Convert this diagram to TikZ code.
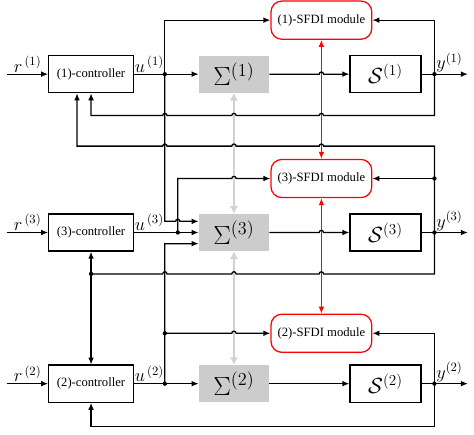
\documentclass[tikz,border=0pt]{standalone}
\usepackage{amsmath}
\usepackage{fontspec}
\setmainfont{Liberation Serif}
\usetikzlibrary{calc}
\usetikzlibrary{arrows.meta}

\tikzset{
	ctrlbox/.style={draw, line width=1pt, minimum width=2.35cm, minimum height=1.03cm},
	sysbox/.style={fill=gray!40, minimum width=1.95cm, minimum height=1.03cm},
	plantbox/.style={draw, line width=1pt, minimum width=1.97cm, minimum height=1.03cm},
	sfdibox/.style={draw=red, line width=1pt, rounded corners=0.3cm, fill=white, inner sep=2pt, minimum width=2.8cm, minimum height=1.06cm},
	sig/.style={line width=1pt, -{Latex[length=5.5pt,width=4.5pt]}},
	wire/.style={line width=1pt},
	share/.style={line width=2.2pt, gray!35, {Latex[length=6pt,width=6.5pt]}-{Latex[length=6pt,width=6.5pt]}},
	talk/.style={line width=1pt, red, {Latex[length=5.5pt,width=4.5pt]}-{Latex[length=5.5pt,width=4.5pt]}},
	lab/.style={above, inner sep=1pt, font=\Large},
}

\begin{document}
\begin{tikzpicture}
	\useasboundingbox (0,0) rectangle (13.17,12.06);

	%blocks
	\node[ctrlbox] (ctrl1) at (2.53,10) {(1)-controller};
	\node[ctrlbox] (ctrl3) at (2.53,5.6) {(3)-controller};
	\node[ctrlbox] (ctrl2) at (2.53,1.4) {(2)-controller};
	\node[sysbox] (sys1) at (6.5,10) {\huge$\Sigma^{(1)}$};
	\node[sysbox] (sys3) at (6.5,5.6) {\huge$\Sigma^{(3)}$};
	\node[sysbox] (sys2) at (6.5,1.4) {\huge$\Sigma^{(2)}$};
	\node[plantbox] (plant1) at (10.71,10) {\LARGE$\mathcal{S}^{(1)}$};
	\node[plantbox] (plant3) at (10.71,5.6) {\LARGE$\mathcal{S}^{(3)}$};
	\node[plantbox] (plant2) at (10.71,1.4) {\LARGE$\mathcal{S}^{(2)}$};
	\node[sfdibox] (sfdi1) at (8.93,11.5) {(1)-SFDI module};
	\node[sfdibox] (sfdi3) at (8.93,7.1) {(3)-SFDI module};
	\node[sfdibox] (sfdi2) at (8.93,2.8) {(2)-SFDI module};

	%branch points and free ends
	\coordinate (r1) at (0.2,10);
	\coordinate (r3) at (0.2,5.6);
	\coordinate (r2) at (0.2,1.4);
	\coordinate (u1) at (4.58,10);
	\coordinate (u3) at (4.94,5.6);
	\coordinate (u2) at (4.58,1.4);
	\coordinate (u2a) at (4.58,2.8);
	\coordinate (y1) at (12.07,10);
	\coordinate (y3) at (12.07,5.6);
	\coordinate (y3a) at (12.07,7.1);
	\coordinate (y2) at (12.07,1.4);
	\coordinate (o1) at (13,10);
	\coordinate (o3) at (13,5.6);
	\coordinate (o2) at (13,1.4);
	\coordinate (c32) at (2.53,4.45);

	%exchange between neighbours
	\draw[share] (sys1.south) -- (sys3.north);
	\draw[share] (sys3.south) -- (sys2.north);
	\draw[talk] (sfdi1.south) -- (sfdi3.north);
	\draw[talk] (sfdi3.south) -- (sfdi2.north);

	%loop 1
	\draw[sig] (r1) -- node[lab] (lr1) {$r^{\,(1)}$} (ctrl1.west);
	\draw[sig] (ctrl1.east) -- node[lab] (lu1) {$u^{\,(1)}$} (u1) -- (sys1.west);
	\draw[sig] (u1) |- (sfdi1.west);
	\draw[sig] (u1) -- (4.58,5.91) -- (4.88,5.91) arc (180:0:0.06) -- ($(sys3.west)+(0,0.31)$);
	\draw[sig] (sys1.east) -- (8.87,10) arc (180:0:0.06) -- (plant1.west);
	\draw[sig] (plant1.east) -- (y1) -- node[lab, pos=0.45] (ly1) {$y^{(1)}$} (o1);
	\draw[sig] (y1) |- (sfdi1.east);
	\draw[sig] (y1) -- (12.07,8.85) -- (8.99,8.85) arc (0:180:0.06) -- (6.56,8.85) arc (0:180:0.06)
		-- (4.64,8.85) arc (0:180:0.06) -- (ctrl1.south |- 0,8.85) -- (ctrl1.south);%y1 back

	%loop 3
	\draw[sig] (r3) -- node[lab] (lr3) {$r^{\,(3)}$} (ctrl3.west);
	\draw[sig] (ctrl3.east) -- node[lab, pos=0.35] (lu3) {$u^{\,(3)}$} (u3) -- (sys3.west);
	\draw[sig] (u3) -- (4.94,7.1) -- (6.44,7.1) arc (180:0:0.06) -- (sfdi3.west);
	\draw[sig] (sys3.east) -- (8.87,5.6) arc (180:0:0.06) -- (plant3.west);
	\draw[sig] (plant3.east) -- (y3) -- node[lab, pos=0.45] (ly3) {$y^{(3)}$} (o3);
	\draw[sig] (y3a) -- (sfdi3.east);
	\draw[sig] (y3) -- (12.07,8.0) -- (8.99,8.0) arc (0:180:0.06) -- (6.56,8.0) arc (0:180:0.06)
		-- (4.64,8.0) arc (0:180:0.06) -- (2.14,8.0) -- ([xshift=-0.39cm]ctrl1.south);%y3 to ctrl1
	\draw[wire] (y3) -- (12.07,4.45) -- (8.99,4.45) arc (0:180:0.06) -- (6.56,4.45) arc (0:180:0.06)
		-- (4.64,4.45) arc (0:180:0.06) -- (c32);%y3 down
	\draw[sig] (c32) -- (ctrl3.south);
	\draw[sig] (c32) -- (ctrl2.north);

	%loop 2
	\draw[sig] (r2) -- node[lab] (lr2) {$r^{\,(2)}$} (ctrl2.west);
	\draw[sig] (ctrl2.east) -- node[lab] (lu2) {$u^{\,(2)}$} (u2) -- (sys2.west);
	\draw[sig] (u2) -- (4.58,5.29) -- ($(sys3.west)+(0,-0.31)$);
	\draw[sig] (u2a) -- (6.44,2.8) arc (180:0:0.06) -- (sfdi2.west);
	\draw[sig] (sys2.east) -- (plant2.west);
	\draw[sig] (plant2.east) -- (y2) -- node[lab, pos=0.45] (ly2) {$y^{(2)}$} (o2);
	\draw[sig] (y2) |- (sfdi2.east);
	\draw[sig] (y2) -- (12.07,0.2) -- (ctrl2.south |- 0,0.2) -- (ctrl2.south);

	\foreach \p in {u1,u3,u2,u2a,y1,y3,y3a,y2,c32}
		\fill (\p) circle (0.06);%dots
\end{tikzpicture}
\end{document}
